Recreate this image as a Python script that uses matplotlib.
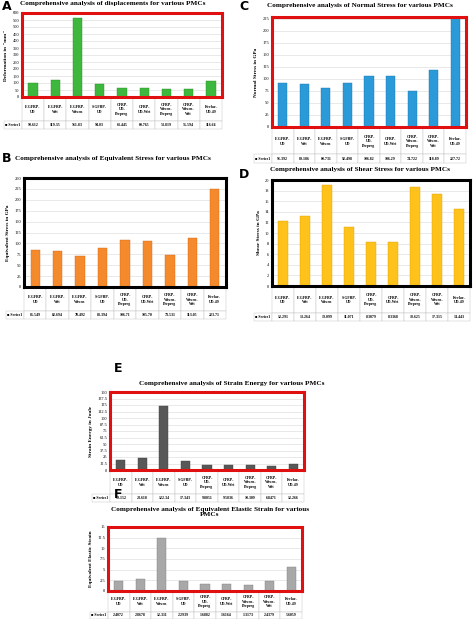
import matplotlib
matplotlib.use("Agg")
import matplotlib.pyplot as plt
import numpy as np

plt.rcParams['font.family'] = ['Liberation Serif', 'DejaVu Serif']

# categories and values per panel
cats = ["E-GFRP-\nUD", "E-GFRP-\nWet", "E-GFRP-\nWoven", "S-GFRP-\nUD", "CFRP-\nUD-\nPrepreg",
        "CFRP-\nUD-Wet", "CFRP-\nWoven-\nPrepreg", "CFRP-\nWoven-\nWet", "Kevlar-\nUD-49"]
disp = [99.612, 119.35, 561.83, 94.03, 63.445, 60.765, 53.819, 55.594, 116.64]
disp_lbl = ["99.612", "119.35", "561.83", "94.03", "63.445", "60.765", "53.819", "55.594", "116.64"]
eqs = [85.549, 82.694, 70.492, 88.394, 106.71, 105.70, 73.531, 113.05, 223.71]
eqs_lbl = ["85.549", "82.694", "70.492", "88.394", "106.71", "105.70", "73.531", "113.05", "223.71"]
nrm = [91.392, 89.186, 80.731, 92.498, 106.82, 106.29, 74.722, 118.89, 227.72]
nrm_lbl = ["91.392", "89.186", "80.731", "92.498", "106.82", "106.29", "74.722", "118.89", "227.72"]
shr = [12.291, 13.264, 19.099, 11.071, 8.3079, 8.3368, 18.625, 17.315, 14.443]
shr_lbl = ["12.291", "13.264", "19.099", "11.071", "8.3079", "8.3368", "18.625", "17.315", "14.443"]
sen = [19.152, 23.618, 122.34, 17.343, 9.8051, 9.5836, 10.309, 6.8471, 12.266]
sen_lbl = ["19.152", "23.618", "122.34", "17.343", "9.8051", "9.5836", "10.309", "6.8471", "12.266"]
els = [2.4072, 2.8678, 12.311, 2.2939, 1.6882, 1.6164, 1.3173, 2.4379, 5.6059]
els_lbl = ["2.4072", "2.8678", "12.311", "2.2939", "1.6882", "1.6164", "1.3173", "2.4379", "5.6059"]

W, H = 474, 619
fig = plt.figure(figsize=(W / 100, H / 100), dpi=100)


def panel(letter, lx, ly, title, tx, ty, box, tab_h, vals, labels, color, edge, ylabel,
          ymax, ystep, border, top=None):
    x0, y0, x1, y1 = box  # pixel coords of plot area
    ph = y1 - y0
    ax = fig.add_axes([x0 / W, 1 - y1 / H, (x1 - x0) / W, ph / H])
    x = np.arange(len(vals))
    ax.bar(x, vals, width=0.42, color=color, edgecolor=edge, linewidth=0.3)
    ax.set_xlim(-0.5, len(vals) - 0.5)
    ax.set_ylim(0, top or ymax)
    ticks = np.arange(0, ymax + ystep / 2, ystep)
    ax.set_yticks(ticks)
    ax.set_yticklabels([("%g" % t) for t in ticks], fontsize=3.2)
    ax.set_xticks([])
    ax.yaxis.grid(True, color="#d9d9d9", linewidth=0.4)
    ax.set_axisbelow(True)
    ax.tick_params(length=0, pad=2)
    for s in ax.spines.values():
        s.set_color(border)
        s.set_linewidth(2.2)
    ax.set_ylabel(ylabel, fontsize=3.8, fontweight="bold", labelpad=3)
    # data table below, fixed pixel height
    f = tab_h / ph
    tab = ax.table(cellText=[labels], rowLabels=["■ Series1"], colLabels=cats,
                   cellLoc="center", rowLoc="center", bbox=[0, -f - 0.01, 1, f])
    tab.auto_set_font_size(False)
    for (r, c), cell in tab.get_celld().items():
        cell.set_edgecolor("#bfbfbf")
        cell.set_linewidth(0.3)
        cell.set_fontsize(2.8)
        cell.get_text().set_fontweight("bold")
        cell.set_height(0.75 if r == 0 else 0.25)
        if c == -1:
            cell.set_width(0.075)
    fig.text(tx / W, 1 - ty / H, title, fontsize=5.2, fontweight="bold", ha="center", va="center")
    fig.text(lx / W, 1 - ly / H, letter, fontsize=9, fontweight="bold", family="DejaVu Sans",
             ha="left", va="center")


panel("A", 2, 7, "Comprehensive analysis of displacements for various PMCs", 113, 4,
      (22, 13, 222, 97), 31, disp, disp_lbl, "#3db83d", "#2a8a2a", "Deformation in \"mm\"",
      600, 50, "#e01010")
panel("B", 2, 158, "Comprehensive analysis of Equivalent Stress for various PMCs", 113, 159,
      (24, 178, 226, 287), 31, eqs, eqs_lbl, "#f58a2c", "#d0651a", "Equivalent Stress in GPa",
      250, 25, "black")
panel("C", 239, 7, "Comprehensive analysis of Normal Stress for various PMCs", 360, 6,
      (272, 17, 466, 127), 35, nrm, nrm_lbl, "#2b9ad8", "#1a78b0", "Normal Stress in GPa",
      225, 25, "#e01010", top=229)
panel("D", 239, 174, "Comprehensive analysis of Shear Stress for various PMCs", 360, 170,
      (272, 180, 470, 286), 34, shr, shr_lbl, "#ffc21a", "#e0a000", "Shear Stress in GPa",
      20, 2, "black")
panel("E", 114, 368, "Comprehensive analysis of Strain Energy for various PMCs", 232, 383,
      (110, 392, 304, 470), 31, sen, sen_lbl, "#585858", "#404040", "Strain Energy in Joule",
      150, 12.5, "#e01010")
panel("F", 114, 494, "Comprehensive analysis of Equivalent Elastic Strain for various\nPMCs", 210, 512,
      (108, 527, 302, 591), 27, els, els_lbl, "#a8a8a8", "#808080", "Equivalent Elastic Strain",
      15, 2.5, "#e01010")

fig.savefig("out.png", dpi=100)
